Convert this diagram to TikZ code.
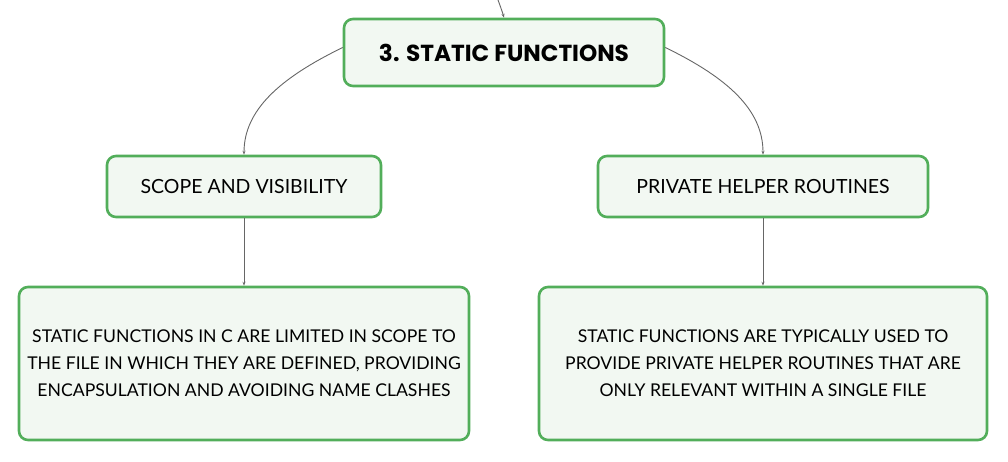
\documentclass[tikz,border=0pt]{standalone}
\usepackage{fontspec}
\setmainfont{Lato}
\newfontfamily\titlefont{Poppins}
\usetikzlibrary{arrows.meta}
\definecolor{boxgreen}{HTML}{52AE5A}
\definecolor{boxfill}{HTML}{F2F8F2}
\definecolor{linegray}{HTML}{666666}
\begin{document}
\begin{tikzpicture}[x=1pt,y=-1pt,
  box/.style={draw=boxgreen, fill=boxfill, line width=2.6pt, rounded corners=9pt, align=center, inner sep=0pt},
  conn/.style={draw=linegray, line width=0.9pt, -{Stealth[length=4pt,width=3pt]}},
  midlbl/.style={font=\fontsize{19.5}{24}\selectfont},
  lbl/.style={font=\fontsize{17.6}{27}\selectfont}]
\useasboundingbox (0,0) rectangle (1008,461);
\node[box, minimum width=320pt, minimum height=67pt, font=\titlefont\bfseries\fontsize{23.2}{28}\selectfont] (main) at (504,52.5) {3. STATIC FUNCTIONS};
\node[box, midlbl, minimum width=274pt, minimum height=61pt] (scope) at (244,186.5) {SCOPE AND VISIBILITY};
\node[box, midlbl, minimum width=330pt, minimum height=61pt] (priv) at (763,186.5) {PRIVATE HELPER ROUTINES};
\node[box, lbl, minimum width=450pt, minimum height=153pt] (ld) at (244,363.5) {STATIC FUNCTIONS IN C ARE LIMITED IN SCOPE TO\\THE FILE IN WHICH THEY ARE DEFINED, PROVIDING\\ENCAPSULATION AND AVOIDING NAME CLASHES};
\node[box, lbl, minimum width=448pt, minimum height=153pt] (rd) at (763,363.5) {STATIC FUNCTIONS ARE TYPICALLY USED TO\\PROVIDE PRIVATE HELPER ROUTINES THAT ARE\\ONLY RELEVANT WITHIN A SINGLE FILE};
\coordinate (top) at (498,0);
\draw[conn] (top) .. controls (501,8) and (503,14) .. (main.north);
\draw[conn] ([yshift=5pt]main.west) .. controls (280,78) and (244,110) .. (scope.north);
\draw[conn] ([yshift=5pt]main.east) .. controls (728,78) and (763,110) .. (priv.north);
\draw[conn] (scope.south) -- (ld.north);
\draw[conn] (priv.south) -- (rd.north);
\end{tikzpicture}
\end{document}
